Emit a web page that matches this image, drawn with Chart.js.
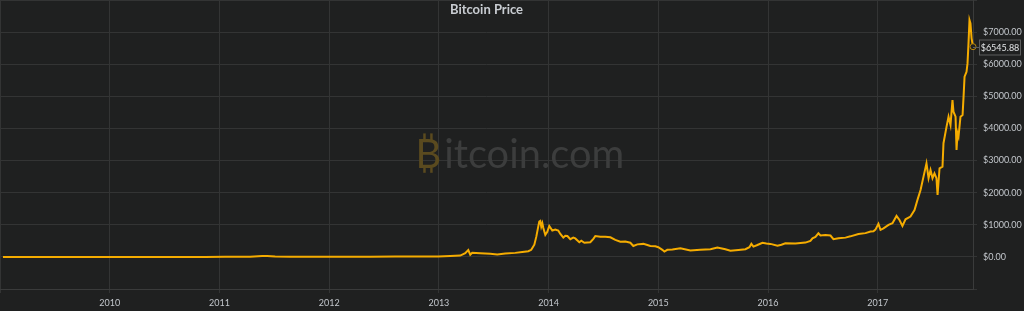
<!DOCTYPE html>
<html><head><meta charset="utf-8">
<script src="https://cdn.jsdelivr.net/npm/chart.js@4.4.0/dist/chart.umd.min.js"></script>
<style>html,body{margin:0;padding:0;background:#1f2020;}#wrap{width:1024px;height:311px;position:relative}</style>
</head><body><div id="wrap"><canvas id="c"></canvas></div>
<script>
const chartTitle = 'Bitcoin Price';
const watermarkText = 'Bitcoin.com';
// decimal years of each sample
const dateYears = [
2009.027,2010.003,2010.733,2010.869,2011.052,2011.280,2011.389,2011.435,2011.508,2011.645,2011.827,
2012.009,2012.374,2012.602,2012.830,2012.994,2013.104,2013.195,2013.240,2013.268,2013.286,2013.304,
2013.377,2013.468,2013.532,2013.605,2013.696,2013.760,2013.815,2013.842,2013.870,2013.888,2013.906,
2013.915,2013.924,2013.933,2013.943,2013.952,2013.970,2013.988,2014.006,2014.034,2014.061,2014.088,
2014.107,2014.134,2014.152,2014.171,2014.198,2014.225,2014.243,2014.280,2014.298,2014.326,2014.380,
2014.408,2014.426,2014.471,2014.517,2014.563,2014.608,2014.654,2014.699,2014.745,2014.772,2014.809,
2014.864,2014.900,2014.927,2014.973,2015.000,2015.037,2015.055,2015.082,2015.128,2015.201,2015.292,
2015.383,2015.475,2015.538,2015.611,2015.657,2015.730,2015.794,2015.830,2015.848,2015.867,2015.903,
2015.949,2015.985,2016.022,2016.086,2016.122,2016.158,2016.250,2016.341,2016.386,2016.405,2016.432,
2016.459,2016.478,2016.523,2016.569,2016.596,2016.642,2016.706,2016.751,2016.824,2016.888,2016.934,
2016.961,2016.979,2017.006,2017.025,2017.052,2017.098,2017.134,2017.171,2017.198,2017.225,2017.253,
2017.298,2017.335,2017.362,2017.390,2017.417,2017.444,2017.463,2017.481,2017.499,2017.517,2017.535,
2017.545,2017.563,2017.590,2017.599,2017.627,2017.645,2017.663,2017.681,2017.690,2017.709,2017.718,
2017.727,2017.736,2017.754,2017.773,2017.782,2017.791,2017.809,2017.818,2017.827,2017.836,2017.845,
2017.855,2017.868
];
// price in USD
const prices = [
0,0.06,0.07,0.3,0.9,8,25,30,14,5,3,
6,5,10,12,13,25,40,115,215,70,130,
115,95,75,105,125,150,175,220,380,630,950,
1100,1120,940,1050,900,685,780,965,820,850,820,
715,600,660,650,550,600,575,455,505,440,455,
560,650,625,630,610,530,475,480,440,340,390,
405,370,340,330,300,220,165,220,230,270,200,
220,240,290,240,190,215,240,300,405,320,370,
440,420,405,350,380,425,420,445,500,580,620,
735,665,680,665,550,580,600,640,715,740,790,
800,850,1030,840,890,995,1050,1275,1150,965,1170,
1255,1460,1775,2085,2500,2915,2450,2705,2450,2600,2450,
1930,2760,2810,3540,4055,4365,4105,4885,4520,4365,3330,
3850,3745,4365,4420,4990,5610,5765,6025,6650,7375,7270,
6805,6545.88
];
const yearTicks = [2009,2010,2011,2012,2013,2014,2015,2016,2017];
const priceMin = -1000, priceMax = 8000, priceStep = 1000;

const BG = '#1f2020', GRID = '#333434', TXT = '#c3c7cc', LINE = '#f5ac00';
const lastIdx = prices.length - 1;
const noPad = () => ({ left: 0, right: 0, top: 0, bottom: 0 });

const deco = {
  id: 'deco',
  beforeDraw(chart) {
    const c = chart.ctx;
    c.save(); c.fillStyle = BG; c.fillRect(0, 0, chart.width, chart.height); c.restore();
  },
  beforeDatasetsDraw(chart) {
    const c = chart.ctx, a = chart.chartArea;
    const W = a.right - a.left, H = a.bottom - a.top;
    c.save();
    c.textBaseline = 'alphabetic';
    c.font = '400 38px Lato';
    const first = watermarkText[0], rest = watermarkText.slice(1);
    const target = W * 0.185;
    const size = 38 * target / c.measureText(rest).width;
    c.font = '400 ' + size.toFixed(1) + 'px Lato';
    const bx = a.left + W * 0.427, by = a.top + H * 0.58;
    const bw = c.measureText(first).width;
    c.fillStyle = '#5a4a1f';
    c.fillText(first, bx, by);
    c.strokeStyle = '#5a4a1f'; c.lineWidth = 2.5;
    [0.35, 0.62].forEach(f => {
      c.beginPath(); c.moveTo(bx + bw * f, by - size * 0.86); c.lineTo(bx + bw * f, by - size * 0.68); c.stroke();
      c.beginPath(); c.moveTo(bx + bw * f, by); c.lineTo(bx + bw * f, by + size * 0.13); c.stroke();
    });
    c.fillStyle = '#3c3d3d';
    c.fillText(rest, bx + bw + 3, by);
    c.restore();
  },
  afterDraw(chart) {
    const c = chart.ctx, a = chart.chartArea;
    c.save();
    c.font = 'bold 13px Lato';
    c.fillStyle = '#c9cdd2';
    c.textAlign = 'center'; c.textBaseline = 'middle';
    c.fillText(chartTitle, (a.left + a.right) / 2, 10);
    const ys = chart.scales.y;
    const py = Math.round(ys.getPixelForValue(prices[lastIdx])) + 0.5;
    const bx0 = a.right + 6.5, bw = 41, bh = 15;
    c.strokeStyle = '#5c5d5d'; c.lineWidth = 1;
    c.beginPath(); c.moveTo(a.right, py); c.lineTo(bx0, py); c.stroke();
    c.fillStyle = BG; c.fillRect(bx0, py - bh / 2, bw, bh);
    c.strokeRect(bx0, py - bh / 2, bw, bh);
    c.font = '9px Lato'; c.fillStyle = '#e2e4e6';
    c.textAlign = 'center';
    c.fillText('$' + prices[lastIdx].toFixed(2), bx0 + bw / 2, py + 0.5);
    c.restore();
  }
};

new Chart(document.getElementById('c'), {
  type: 'line',
  data: {
    datasets: [{
      data: dateYears.map((x, i) => ({ x, y: prices[i] })),
      borderColor: LINE,
      borderWidth: 2,
      tension: 0,
      fill: false,
      pointRadius: prices.map((_, i) => i === lastIdx ? 3 : 0),
      pointBackgroundColor: BG,
      pointBorderColor: '#b8860b',
      pointBorderWidth: 1,
      clip: false
    }]
  },
  options: {
    responsive: true, maintainAspectRatio: false, animation: false, devicePixelRatio: 1,
    layout: { padding: 0, autoPadding: false },
    plugins: { legend: { display: false }, tooltip: { enabled: false }, title: { display: false } },
    scales: {
      x: {
        type: 'linear', min: 2009, max: dateYears[lastIdx],
        afterBuildTicks: s => { s.ticks = yearTicks.map(v => ({ value: v })); },
        afterFit: s => { s.height = 22; s.paddingLeft = 0; s.paddingRight = 0; s.getPadding = noPad; },
        grid: { color: GRID, tickLength: 4, lineWidth: 1 },
        border: { color: '#3a3b3b' },
        ticks: { color: TXT, font: { family: 'Lato', size: 9 }, padding: 5, maxRotation: 0, autoSkip: false,
                 callback: v => v === yearTicks[0] ? '' : String(v) }
      },
      y: {
        position: 'right', min: priceMin, max: priceMax,
        afterFit: s => { s.width = 51; s.paddingTop = 0; s.paddingBottom = 0; s.getPadding = noPad; },
        grid: { color: GRID, tickLength: 4, lineWidth: 1 },
        border: { color: '#3a3b3b' },
        ticks: { stepSize: priceStep, color: TXT, font: { family: 'Lato', size: 9 }, padding: 6,
                 callback: v => (v <= priceMin || v >= priceMax) ? '' : '$' + Number(v).toFixed(2) }
      }
    }
  },
  plugins: [deco]
});
</script></body></html>
